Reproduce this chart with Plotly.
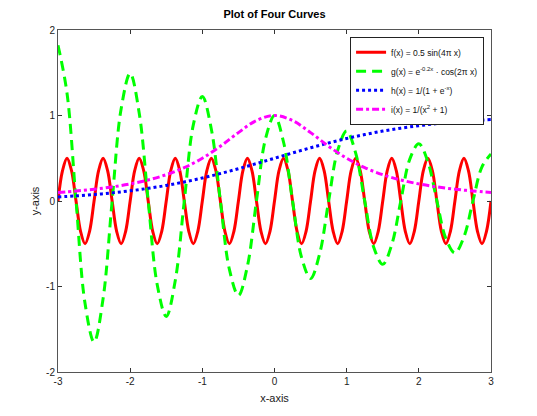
import plotly.graph_objects as go

# sample positions
x_f = [-3 + k / 16 for k in range(97)]
x_g = [-3 + k / 8 for k in range(49)]
x_hi = [-3 + k / 4 for k in range(25)]

# f(x) = 0.5 sin(4 pi x)
f_vals = [0, 0.354, 0.5, 0.354, 0, -0.354, -0.5, -0.354] * 12 + [0]

# g(x) = e^(-0.2x) cos(2 pi x)
g_vals = [1.822, 1.26, 0, -1.20, -1.649, -1.14, 0, 1.08,
          1.492, 1.03, 0, -0.98, -1.350, -0.93, 0, 0.89,
          1.221, 0.84, 0, -0.80, -1.105, -0.76, 0, 0.725,
          1.000, 0.69, 0, -0.66, -0.905, -0.62, 0, 0.59,
          0.819, 0.56, 0, -0.54, -0.741, -0.51, 0, 0.49,
          0.670, 0.46, 0, -0.44, -0.607, -0.42, 0, 0.40,
          0.549]

# h(x) = 1/(1+e^-x)
h_vals = [0.047, 0.060, 0.076, 0.095, 0.119, 0.148, 0.182, 0.223, 0.269,
          0.321, 0.378, 0.438, 0.5, 0.562, 0.622, 0.679, 0.731, 0.777,
          0.818, 0.852, 0.881, 0.905, 0.924, 0.940, 0.953]

# i(x) = 1/(x^2+1)
i_vals = [0.1, 0.117, 0.138, 0.165, 0.2, 0.246, 0.308, 0.390, 0.5,
          0.64, 0.8, 0.941, 1.0, 0.941, 0.8, 0.64, 0.5, 0.390, 0.308,
          0.246, 0.2, 0.165, 0.138, 0.117, 0.1]

names = ["f(x) = 0.5 sin(4\u03c0 x)",
         "g(x) = e<sup>-0.2x</sup> \u00b7 cos(2\u03c0 x)",
         "h(x) = 1/(1 + e<sup>-x</sup>)",
         "i(x) = 1/(x<sup>2</sup> + 1)"]

x_ticks = [-3, -2, -1, 0, 1, 2, 3]
x_labels = ["-3", "-2", "-1", "0", "1", "2", "3"]
y_ticks = [-2, -1, 0, 1, 2]
y_labels = ["-2", "-1", "0", "1", "2"]

fig = go.Figure()
fig.add_trace(go.Scatter(x=x_f, y=f_vals, name=names[0], mode="lines",
                         line=dict(color="#ff0000", width=3, shape="spline")))
fig.add_trace(go.Scatter(x=x_g, y=g_vals, name=names[1], mode="lines",
                         line=dict(color="#00ff00", width=3, dash="10px,6px", shape="spline")))
fig.add_trace(go.Scatter(x=x_hi, y=h_vals, name=names[2], mode="lines",
                         line=dict(color="#0000ff", width=3, dash="dot", shape="spline")))
fig.add_trace(go.Scatter(x=x_hi, y=i_vals, name=names[3], mode="lines",
                         line=dict(color="#ff00ff", width=3, dash="7px,3px,3px,3px", shape="spline")))

axis_style = dict(showgrid=False, zeroline=False, showline=True, mirror="ticks",
                  linecolor="#555555", linewidth=1, ticks="inside", ticklen=4,
                  tickcolor="#333333", tickfont=dict(size=10, color="#222222"))

# the page body adds an 8px margin, so the figure is a little smaller than the window
fig.update_layout(
    width=529, height=408,
    margin=dict(l=50, r=46, t=22, b=44),
    paper_bgcolor="white", plot_bgcolor="white",
    font=dict(family="Liberation Sans, Arial, sans-serif", size=10, color="#222222"),
    title=dict(text="<b>Plot of Four Curves</b>", x=0.5, xref="paper", y=0.984,
               yanchor="middle", font=dict(size=11, color="black")),
    xaxis=dict(range=[-3, 3], tickvals=x_ticks, ticktext=x_labels,
               title=dict(text="x-axis", standoff=8, font=dict(size=11)), **axis_style),
    yaxis=dict(range=[-2, 2], tickvals=y_ticks, ticktext=y_labels,
               title=dict(text="y-axis", standoff=4, font=dict(size=11)), **axis_style),
    legend=dict(x=0.984, y=0.98, xanchor="right", yanchor="top",
                bgcolor="white", bordercolor="#222222", borderwidth=1,
                font=dict(size=8.5, color="#111111"), tracegroupgap=0,
                itemwidth=30),
    showlegend=True,
)

fig.write_html("out.html")
